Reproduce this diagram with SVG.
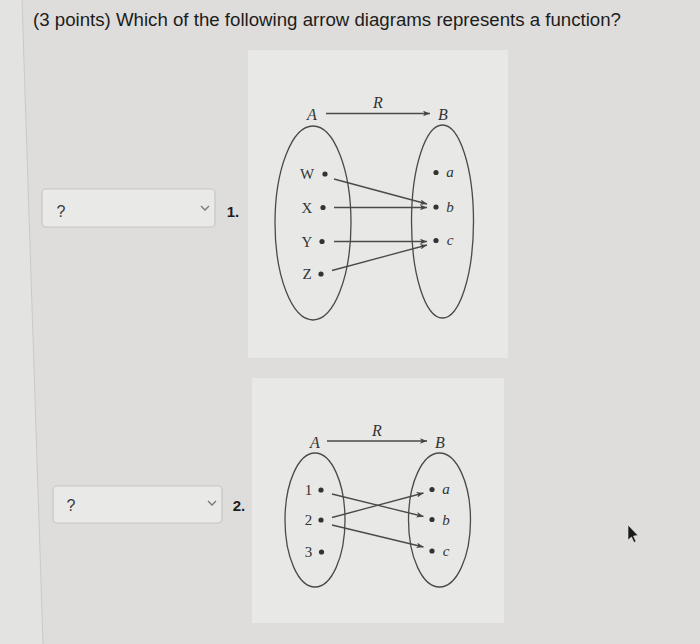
<svg xmlns="http://www.w3.org/2000/svg" width="700" height="644" viewBox="0 0 700 644">
<defs>
<marker id="ah" viewBox="0 0 10 8" refX="10" refY="4" markerWidth="7" markerHeight="5.6" markerUnits="userSpaceOnUse" orient="auto">
<path d="M0,0 L10,4 L0,8 L2.5,4 Z" fill="#444"/>
</marker>
<style>
.bg{fill:#dedddb}
.panel{fill:#e8e8e6}
.title{font-family:"Liberation Sans",Arial,sans-serif;font-size:17.5px;fill:#1c1c1c}
.q{font-family:"Liberation Sans",Arial,sans-serif;font-size:16px;fill:#3a3a3a;text-anchor:middle}
.num{font-family:"Liberation Sans",Arial,sans-serif;font-size:15px;font-weight:bold;fill:#1e1e1e;text-anchor:middle}
.box{fill:#e9e9e7;stroke:#c6c6c4;stroke-width:1.2}
.chev{fill:none;stroke:#777;stroke-width:1.3}
.set{fill:none;stroke:#4a4a4a;stroke-width:1.3}
.it{font-family:"Liberation Serif","Times New Roman",serif;font-style:italic;font-size:16px;fill:#333;text-anchor:middle}
.el{font-family:"Liberation Serif","Times New Roman",serif;font-size:15px;fill:#333;text-anchor:middle}
.eli{font-family:"Liberation Serif","Times New Roman",serif;font-style:italic;font-size:15px;fill:#333;text-anchor:middle}
.dot{fill:#333}
.arr{fill:none;stroke:#4a4a4a;stroke-width:1.3;marker-end:url(#ah)}
</style>
</defs>
<rect class="bg" x="0" y="0" width="700" height="644"/>
<polygon points="0,0 22,0 43,644 0,644" fill="#e3e3e1"/>
<line x1="22" y1="0" x2="43" y2="644" stroke="#c9c9c7" stroke-width="1"/>
<rect class="panel" x="248" y="50" width="260" height="308"/>
<rect class="panel" x="252" y="378" width="252" height="245"/>

<text class="title" x="33" y="26" textLength="588" lengthAdjust="spacingAndGlyphs">(3 points) Which of the following arrow diagrams represents a function?</text>

<g id="dropdown1">
<rect class="box" x="42" y="189" width="173" height="38" rx="4"/>
<text class="q" x="61" y="217">?</text>
<polyline class="chev" points="201,206 205,210 209,206"/>
<text class="num" x="233" y="217">1.</text>
</g>
<g id="dropdown2">
<rect class="box" x="53" y="486" width="169" height="37" rx="4"/>
<text class="q" x="71" y="511">?</text>
<polyline class="chev" points="208,501 212,505 216,501"/>
<text class="num" x="239" y="511">2.</text>
</g>

<g id="diagram1">
<g id="d1-labels">
<text class="it" x="312" y="120">A</text>
<text class="it" x="378" y="108">R</text>
<text class="it" x="443" y="120">B</text>
</g>
<g id="d1-setA">
<ellipse class="set" cx="313" cy="223" rx="38" ry="97"/>
<text class="el" x="307" y="179">W</text><circle class="dot" cx="325" cy="174" r="2.6"/>
<text class="el" x="307" y="212.5">X</text><circle class="dot" cx="323" cy="207.5" r="2.6"/>
<text class="el" x="307" y="246.5">Y</text><circle class="dot" cx="322" cy="241.5" r="2.6"/>
<text class="el" x="307" y="279">Z</text><circle class="dot" cx="321" cy="274" r="2.6"/>
</g>
<g id="d1-setB">
<ellipse class="set" cx="442.5" cy="221.5" rx="31" ry="96.5"/>
<circle class="dot" cx="436" cy="172.5" r="2.6"/><text class="eli" x="450" y="177">a</text>
<circle class="dot" cx="436" cy="207" r="2.6"/><text class="eli" x="450" y="212">b</text>
<circle class="dot" cx="436" cy="240.5" r="2.6"/><text class="eli" x="450" y="245">c</text>
</g>
<g id="d1-connectors">
<line class="arr" x1="326" y1="113.5" x2="430" y2="113.5"/>
<line class="arr" x1="334" y1="179" x2="427" y2="204"/>
<line class="arr" x1="334" y1="207.5" x2="427" y2="207.5"/>
<line class="arr" x1="334" y1="241.5" x2="427" y2="241.5"/>
<line class="arr" x1="332" y1="270.5" x2="427" y2="245"/>
</g>
</g>

<g id="diagram2">
<g id="d2-labels">
<text class="it" x="315" y="448">A</text>
<text class="it" x="377" y="436">R</text>
<text class="it" x="440" y="448">B</text>
</g>
<g id="d2-setA">
<ellipse class="set" cx="315" cy="520" rx="30" ry="67"/>
<text class="el" x="308.5" y="495">1</text><circle class="dot" cx="321" cy="490" r="2.6"/>
<text class="el" x="308.5" y="525">2</text><circle class="dot" cx="321" cy="520" r="2.6"/>
<text class="el" x="308.5" y="557">3</text><circle class="dot" cx="321.5" cy="552" r="2.6"/>
</g>
<g id="d2-setB">
<ellipse class="set" cx="439.5" cy="520" rx="31" ry="67"/>
<circle class="dot" cx="432" cy="489.5" r="2.6"/><text class="eli" x="446" y="494">a</text>
<circle class="dot" cx="432" cy="519.5" r="2.6"/><text class="eli" x="446" y="524.5">b</text>
<circle class="dot" cx="432" cy="551" r="2.6"/><text class="eli" x="446" y="555.5">c</text>
</g>
<g id="d2-connectors">
<line class="arr" x1="327" y1="441" x2="427" y2="441"/>
<line class="arr" x1="332" y1="494" x2="423.5" y2="516.5"/>
<line class="arr" x1="332" y1="517.5" x2="423.5" y2="493"/>
<line class="arr" x1="332" y1="525" x2="423.5" y2="547"/>
</g>
</g>

<polygon points="628,525 628,540 631.5,537 634,542.5 636,541.5 633.5,536 638,535.5" fill="#1a1a1a" stroke="#e8e8e6" stroke-width="0.6"/>
</svg>
